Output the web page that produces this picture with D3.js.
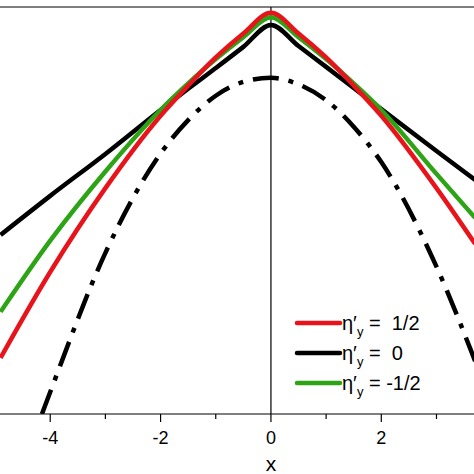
<!DOCTYPE html>
<html><head><meta charset="utf-8">
<script src="https://cdn.jsdelivr.net/npm/d3@7"></script>
<style>body{margin:0;background:#fff}svg{display:block}</style>
</head><body><svg id="c" width="474" height="474"></svg>
<script>
const xs      = [-4.9, -4, -3, -2, -1.5, -1, -0.5, 0, 0.5, 1, 1.5, 2, 3, 3.7];
const redY    = [1.38, 3.49, 5.55, 7.33, 8.07, 8.76, 9.35, 9.86, 9.35, 8.76, 8.07, 7.33, 5.55, 4.18];
const blackY  = [4.40, 5.36, 6.39, 7.47, 7.99, 8.50, 9.02, 9.56, 9.04, 8.53, 8.01, 7.49, 6.46, 5.75];
const greenY  = [2.51, 4.26, 5.96, 7.47, 8.12, 8.72, 9.26, 9.75, 9.26, 8.72, 8.12, 7.47, 5.90, 4.82];
const dashX   = [-4.15, -4, -3, -2, -1.5, -1, -0.5, 0, 0.5, 1, 1.5, 2, 3, 3.7];
const dashY   = [0.0, 0.54, 3.96, 6.40, 7.22, 7.82, 8.16, 8.26, 8.10, 7.71, 7.06, 6.19, 3.62, 1.30];
const xTicks  = [-4, -2, 0, 2];
const minorTicks = [-3, -1, 1, 3];
const legendLabels = [" =  1/2", " =  0", " = -1/2"];
const colors = ["#e8141b", "#000000", "#2ca416"];

const svg = d3.select("#c");
const x = d3.scaleLinear().domain([-4.91, 3.68]).range([0, 474]);
const y = d3.scaleLinear().domain([0, 10]).range([414, 7]);

svg.append("clipPath").attr("id","cp").append("rect").attr("x",0).attr("y",7).attr("width",474).attr("height",407);

svg.append("line").attr("x1",0).attr("x2",474).attr("y1",7).attr("y2",7).attr("stroke","#000").attr("stroke-width",1.2);
svg.append("line").attr("x1",x(0)).attr("x2",x(0)).attr("y1",7).attr("y2",414).attr("stroke","#000").attr("stroke-width",1.2);

const g = svg.append("g").attr("clip-path","url(#cp)");
const line = d3.line().x(d=>x(d[0])).y(d=>y(d[1])).curve(d3.curveMonotoneX);
g.append("path").datum(dashX.map((v,i)=>[v,dashY[i]])).attr("d",line)
  .attr("fill","none").attr("stroke","#000").attr("stroke-width",4.5).attr("stroke-dasharray","26,10,5,10");
[blackY, greenY, redY].forEach((arr,k)=>{
  const col = [colors[1], colors[2], colors[0]][k];
  g.append("path").datum(xs.map((v,i)=>[v,arr[i]])).attr("d",line)
   .attr("fill","none").attr("stroke",col).attr("stroke-width",4.5);
});

const ax = svg.append("g").attr("transform","translate(0,414)");
ax.append("line").attr("x1",0).attr("x2",474).attr("stroke","#000").attr("stroke-width",1.2);
ax.selectAll(".mj").data(xTicks).enter().append("line").attr("x1",d=>x(d)).attr("x2",d=>x(d)).attr("y1",0).attr("y2",8).attr("stroke","#000").attr("stroke-width",1.2);
ax.selectAll(".mn").data(minorTicks).enter().append("line").attr("x1",d=>x(d)).attr("x2",d=>x(d)).attr("y1",0).attr("y2",5).attr("stroke","#000").attr("stroke-width",1.2);
ax.selectAll("text").data(xTicks).enter().append("text").attr("x",d=>x(d)).attr("y",30)
  .attr("text-anchor","middle").attr("font-family","Liberation Sans, Arial, sans-serif").attr("font-size",18).text(d=>d);
svg.append("text").attr("x",x(0)).attr("y",471).attr("text-anchor","middle")
  .attr("font-family","Liberation Sans, Arial, sans-serif").attr("font-size",21).text("x");

const lg = svg.append("g");
legendLabels.forEach((lab,i)=>{
  const yy = 323 + i*30;
  lg.append("line").attr("x1",297).attr("x2",340).attr("y1",yy).attr("y2",yy).attr("stroke",colors[i]).attr("stroke-width",4.5).attr("stroke-linecap","round");
  const t = lg.append("text").attr("x",342).attr("y",yy+7).attr("font-family","Liberation Sans, Arial, sans-serif").attr("font-size",20).attr("xml:space","preserve").style("white-space","pre");
  t.append("tspan").text("η′");
  t.append("tspan").attr("font-size",13).attr("dy",6).text("y");
  t.append("tspan").attr("dy",-6).text(lab);
});
</script></body></html>
